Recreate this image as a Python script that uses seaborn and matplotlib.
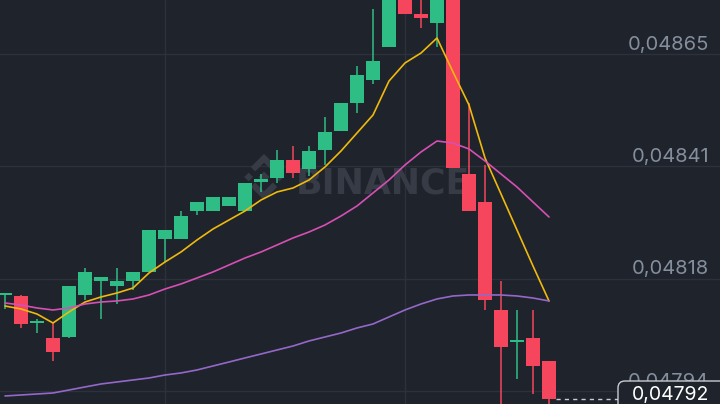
import numpy as np
import pandas as pd
import matplotlib
matplotlib.use("Agg")
import matplotlib.pyplot as plt
import seaborn as sns
from matplotlib.patches import FancyBboxPatch, Polygon
from matplotlib.transforms import blended_transform_factory

# ---- data ----
opens = [0.0481423, 0.0481402, 0.0480833, 0.0480517, 0.0480538, 0.0481423, 0.0481718,
         0.0481613, 0.0481718, 0.0481908, 0.0482603, 0.0482603, 0.0483193, 0.0483193,
         0.0483298, 0.0483193, 0.0483804, 0.0483888, 0.0484267, 0.0484078, 0.0484478,
         0.0484878, 0.0485468, 0.0485953, 0.0486648, 0.0487849, 0.0487343, 0.0487153,
         0.0487849, 0.0483972, 0.0483382, 0.0481107, 0.0480433, 0.0480517, 0.0480032]
highs = [0.0481465, 0.0481423, 0.0480917, 0.0480833, 0.0481613, 0.0481992, 0.0481802,
         0.0481992, 0.0481908, 0.0482792, 0.0482792, 0.0483193, 0.0483382, 0.0483488,
         0.0483488, 0.0483783, 0.0483972, 0.0484478, 0.0484562, 0.0484562, 0.0485173,
         0.0485468, 0.0486248, 0.0487448, 0.0488165, 0.0487954, 0.0487743, 0.0487954,
         0.0487954, 0.0485468, 0.0484162, 0.0481718, 0.0481107, 0.0481107, 0.0480032]
lows = [0.0481128, 0.0480728, 0.0480622, 0.0480032, 0.0480517, 0.0481318, 0.0480917,
        0.0481233, 0.0481528, 0.0481908, 0.0482118, 0.0482603, 0.0483108, 0.0483193,
        0.0483298, 0.0483193, 0.0483593, 0.0483783, 0.0483888, 0.0483930, 0.0484162,
        0.0484878, 0.0485257, 0.0485868, 0.0486648, 0.0487343, 0.0487048, 0.0486648,
        0.0484099, 0.0483193, 0.0481107, 0.0478790, 0.0479653, 0.0479337, 0.0478790]
closes = [0.0481465, 0.0480812, 0.0480854, 0.0480222, 0.0481613, 0.0481908, 0.0481802,
          0.0481718, 0.0481908, 0.0482792, 0.0482792, 0.0483087, 0.0483382, 0.0483488,
          0.0483488, 0.0483783, 0.0483867, 0.0484267, 0.0483993, 0.0484457, 0.0484857,
          0.0485468, 0.0486058, 0.0486353, 0.0488059, 0.0487343, 0.0487259, 0.0487849,
          0.0484099, 0.0483193, 0.0481318, 0.0480327, 0.0480454, 0.0479927, 0.0479232]
ma7 = [0.0481191, 0.0481128, 0.0481022, 0.0480833, 0.0481065, 0.0481275, 0.0481381,
       0.0481465, 0.0481570, 0.0481887, 0.0482118, 0.0482329, 0.0482582, 0.0482813,
       0.0483003, 0.0483193, 0.0483424, 0.0483593, 0.0483677, 0.0483846, 0.0484120,
       0.0484457, 0.0484836, 0.0485215, 0.0485931, 0.0486311, 0.0486521, 0.0486837,
       0.0486121, 0.0485426, 0.0484309, 0.0483551, 0.0482792, 0.0482034, 0.0481297]
ma25 = [0.0481254, 0.0481212, 0.0481149, 0.0481107, 0.0481149, 0.0481233, 0.0481275,
        0.0481297, 0.0481339, 0.0481423, 0.0481549, 0.0481655, 0.0481781, 0.0481908,
        0.0482055, 0.0482202, 0.0482329, 0.0482476, 0.0482624, 0.0482750, 0.0482898,
        0.0483087, 0.0483298, 0.0483572, 0.0483846, 0.0484162, 0.0484436, 0.0484667,
        0.0484625, 0.0484499, 0.0484246, 0.0483972, 0.0483698, 0.0483382, 0.0483066]
ma99 = [0.0479295, 0.0479316, 0.0479337, 0.0479358, 0.0479421, 0.0479485, 0.0479548,
        0.0479590, 0.0479632, 0.0479674, 0.0479737, 0.0479780, 0.0479843, 0.0479927,
        0.0480011, 0.0480096, 0.0480180, 0.0480264, 0.0480348, 0.0480454, 0.0480538,
        0.0480622, 0.0480728, 0.0480812, 0.0480960, 0.0481107, 0.0481233, 0.0481339,
        0.0481402, 0.0481423, 0.0481423, 0.0481423, 0.0481402, 0.0481359, 0.0481297]
tick_values = [0.04865, 0.0484133, 0.0481767, 0.04794]
tick_labels = ["0,04865", "0,04841", "0,04818", "0,04794"]
last_price_label = "0,04792"
watermark_text = "BINANCE"

# ---- style ----
BG = "#1f232c"
GRID = "#2c313b"
GREEN = "#2ebd85"
RED = "#f6465d"
MA_COLORS = {"MA7": "#f0b90b", "MA25": "#d650b4", "MA99": "#9468c9"}
LABEL = "#848e9c"
WM = "#363b45"

sns.set_theme(style="dark", rc={"axes.facecolor": BG, "figure.facecolor": BG})
plt.rcParams["font.family"] = ["Inter", "DejaVu Sans"]

W, H = 720, 404
fig = plt.figure(figsize=(W / 100, H / 100), dpi=100)
ax = fig.add_axes([0, 0, 1, 1])
ax.set_facecolor(BG)
for s in ax.spines.values():
    s.set_visible(False)

n = len(closes)
idx = np.arange(n)
ax.set_xticks([])
ax.set_yticks([])

# grid
for v in tick_values:
    ax.axhline(v, color=GRID, lw=1.0, zorder=0.5)
for xv in (10, 25):
    ax.axvline(xv, color=GRID, lw=1.0, zorder=0.5)

px = fig.dpi_scale_trans  # inches; pixel/100

# watermark logo + text
cx, cy = 2.64, (H - 177) / 100
s = 0.011
def poly(pts):
    return Polygon([(cx + a * s, cy + b * s) for a, b in pts], closed=True,
                   transform=px, facecolor=WM, edgecolor="none", zorder=1)
ax.add_patch(poly([(0, 5), (5, 0), (0, -5), (-5, 0)]))
ax.add_patch(poly([(-14, 4), (-10, 0), (-14, -4), (-18, 0)]))
ax.add_patch(poly([(14, 4), (18, 0), (14, -4), (10, 0)]))
ax.add_patch(poly([(0, 21), (12, 9), (8, 5), (0, 13), (-8, 5), (-12, 9)]))
ax.add_patch(poly([(0, -21), (12, -9), (8, -5), (0, -13), (-8, -5), (-12, -9)]))
ax.text(2.96, (H - 194) / 100, watermark_text, transform=px, fontsize=25,
        fontweight="bold", color=WM, ha="left", va="baseline", zorder=1,
        family=["DejaVu Sans"])

# candles
o = np.array(opens); c = np.array(closes)
up = c >= o
colors = np.where(up, GREEN, RED)
min_h = 2.2e-6 * 2
body_bottom = np.minimum(o, c)
body_h = np.maximum(np.abs(c - o), min_h)
ax.vlines(idx, lows, highs, colors=colors, lw=1.1, zorder=2)
ax.bar(idx, body_h, bottom=body_bottom, width=0.875, color=colors, linewidth=0, zorder=2.1)

# moving averages
df = pd.DataFrame({
    "idx": np.concatenate([idx, idx, idx]),
    "value": ma7 + ma25 + ma99,
    "series": ["MA7"] * n + ["MA25"] * n + ["MA99"] * n,
})
sns.lineplot(data=df, x="idx", y="value", hue="series", palette=MA_COLORS,
             legend=False, ax=ax, linewidth=1.2, zorder=3, sort=False)
ax.set_xlabel("")
ax.set_ylabel("")
ax.set_xlim(-0.3125, 44.6875)
ax.set_ylim(0.0479126, 0.0487638)

# price labels
bt = blended_transform_factory(ax.transAxes, ax.transData)
for v, lbl in zip(tick_values, tick_labels):
    ax.annotate(lbl, xy=(709 / W, v), xycoords=bt, xytext=(0, 3),
                textcoords="offset points", ha="right", va="baseline",
                fontsize=14.5, color=LABEL, zorder=4)

# last price line and box
ax.axhline(closes[-1], xmin=556 / W, xmax=618 / W, color="#c9ccd1", lw=1.0,
           ls=(0, (3, 3)), zorder=4)
box = FancyBboxPatch((6.18, -0.12), 1.2, (H - 381) / 100 + 0.12,
                     boxstyle="round,pad=0,rounding_size=0.07",
                     transform=px, facecolor=BG, edgecolor="#c9ccd1", lw=1.0,
                     zorder=5, clip_on=False)
ax.add_patch(box)
ax.text(7.09, (H - 400) / 100, last_price_label, transform=px, ha="right",
        va="baseline", fontsize=14.0, color="white", zorder=6, clip_on=False)

fig.savefig("out.png", dpi=100, facecolor=BG)
